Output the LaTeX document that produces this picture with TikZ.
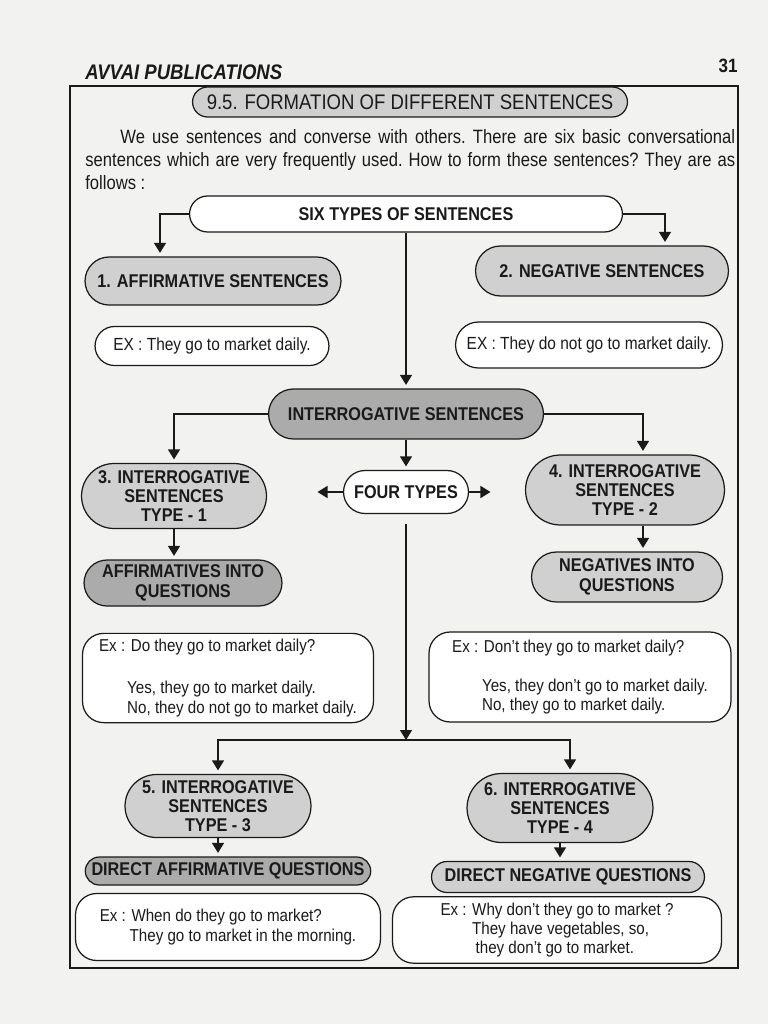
\documentclass[tikz,border=0pt]{standalone}
\usepackage{fontspec}
\setmainfont[FakeStretch=0.88]{Liberation Sans}
\newfontfamily\parafont[FakeStretch=0.86]{Liberation Sans}
\usepackage{tikz}
\usetikzlibrary{arrows.meta,positioning,shapes.misc}
\definecolor{PageGray}{HTML}{F2F2F0}
\definecolor{PillGray}{HTML}{D0D0D0}
\definecolor{PillDark}{HTML}{ABABAB}
\definecolor{InkBlack}{HTML}{1A1A1A}

\begin{document}
\begin{tikzpicture}[x=0.02cm, y=-0.02cm, every node/.style={font=\fontsize{10.5}{11}\selectfont\bfseries, text=InkBlack}, pill/.style={rounded rectangle, draw=InkBlack, line width=0.7pt, fill=PillGray, align=center, inner sep=2pt}, darkpill/.style={pill, fill=PillDark}, whitepill/.style={pill, fill=white}, exbox/.style={rounded corners=12pt, draw=InkBlack, line width=0.7pt, fill=white, align=left, font=\fontsize{9.8}{11}\selectfont}, arrow/.style={-{Triangle[length=2mm,width=2.4mm]}, line width=0.8pt, color=InkBlack, shorten >=2pt}]
\useasboundingbox[fill=PageGray] (0,0) rectangle (768,1024);
% page head and frame
\node[font=\fontsize{12}{14}\selectfont\bfseries\itshape, anchor=base west, inner sep=0pt] (hd) at (85,80) {AVVAI PUBLICATIONS};
\node[font=\fontsize{11}{13}\selectfont\bfseries, anchor=base east, inner sep=0pt] (pg) at (738,72) {31};
\draw[line width=0.9pt, InkBlack] (70,86) rectangle (738,968);
\node[pill, font=\fontsize{12}{14}\selectfont, minimum width=8.84cm, minimum height=0.6cm] (ttl) at (410,102) {9.5. FORMATION OF DIFFERENT SENTENCES};
\node[anchor=north west, text width=13cm, align=justify, font=\parafont\fontsize{11}{13}\selectfont\frenchspacing, inner sep=0pt] (par) at (85,129) {\hspace*{20pt}We use sentences and converse with others. There are six basic conversational\linebreak sentences which are very frequently used. How to form these sentences? They are as\linebreak follows :};
% top level
\node[whitepill, minimum width=8.8cm, minimum height=0.72cm] (six) at (406,214) {SIX TYPES OF SENTENCES};
\node[pill, minimum width=5.26cm, minimum height=0.96cm] (aff) at (213,281) {1. AFFIRMATIVE SENTENCES};
\node[pill, minimum width=5.2cm, minimum height=1cm] (neg) at (602,271) {2. NEGATIVE SENTENCES};
\node[whitepill, font=\fontsize{10}{12}\selectfont, minimum width=4.82cm, minimum height=0.78cm] (exa) at (212,346) {EX : They go to market daily.};
\node[whitepill, font=\fontsize{10}{12}\selectfont, minimum width=5.48cm, minimum height=0.92cm] (exn) at (589,345) {EX : They do not go to market daily.};
\node[darkpill, minimum width=5.64cm, minimum height=1cm] (inter) at (406,414) {INTERROGATIVE SENTENCES};
% interrogative types 1 and 2
\node[whitepill, minimum width=2.64cm, minimum height=0.86cm] (four) at (406,492) {FOUR TYPES};
\node[pill, minimum width=3.84cm, minimum height=1.3cm] (t1) at (174,496) {3. INTERROGATIVE\\SENTENCES\\TYPE - 1};
\node[darkpill, minimum width=4.1cm, minimum height=0.92cm] (aq) at (183,583) {AFFIRMATIVES INTO\\QUESTIONS};
\node[pill, minimum width=4.12cm, minimum height=1.4cm] (t2) at (625,490) {4. INTERROGATIVE\\SENTENCES\\TYPE - 2};
\node[pill, minimum width=3.96cm, minimum height=1cm] (nq) at (627,577) {NEGATIVES INTO\\QUESTIONS};
\node[exbox, minimum width=5.82cm, minimum height=1.76cm] (ex3) at (228,678) {Ex : Do they go to market daily?\\[13pt]\hspace*{16pt}Yes, they go to market daily.\\\hspace*{16pt}No, they do not go to market daily.};
\node[exbox, minimum width=6.04cm, minimum height=1.8cm] (ex4) at (580,677) {Ex : Don't they go to market daily?\\[11pt]\hspace*{17pt}Yes, they don't go to market daily.\\\hspace*{17pt}No, they go to market daily.};
% interrogative types 3 and 4
\node[pill, minimum width=3.68cm, minimum height=1.26cm] (t3) at (218,806) {5. INTERROGATIVE\\SENTENCES\\TYPE - 3};
\node[pill, minimum width=3.86cm, minimum height=1.38cm] (t4) at (560,808) {6. INTERROGATIVE\\SENTENCES\\TYPE - 4};
\node[darkpill, minimum width=5.68cm, minimum height=0.56cm] (daq) at (228,871) {DIRECT AFFIRMATIVE QUESTIONS};
\node[pill, minimum width=5.6cm, minimum height=0.62cm] (dnq) at (568,877) {DIRECT NEGATIVE QUESTIONS};
\node[exbox, minimum width=6.1cm, minimum height=1.34cm] (ex5) at (228,927) {Ex : When do they go to market?\\\hspace*{17pt}They go to market in the morning.};
\node[exbox, minimum width=6.58cm, minimum height=1.3cm] (ex6) at (557,930) {Ex : Why don't they go to market ?\\\hspace*{18pt}They have vegetables, so,\\\hspace*{20pt}they don't go to market.};
% connectors
\draw[arrow] (six.west) -| ([xshift=-1.06cm]aff.north);
\draw[arrow] (six.east) -| ([xshift=1.26cm]neg.north);
\draw[arrow] (six.south) -- (inter.north);
\draw[arrow] (inter.west) -| (t1.north);
\draw[arrow] (inter.east) -| ([xshift=0.36cm]t2.north);
\draw[arrow] (inter.south) -- (four.north);
\coordinate (fl) at (314,492);
\coordinate (fr) at (494,492);
\draw[arrow] (four.west) -- (fl); \draw[arrow] (four.east) -- (fr);
\draw[arrow] (t1.south) -- (t1.south |- aq.north);
\draw[arrow] ([xshift=0.36cm]t2.south) -- ([xshift=0.36cm]t2.south |- nq.north);
\coordinate (j) at (406,740);
\draw[arrow, shorten >=0pt] ([yshift=-0.2cm]four.south) -- (j);
\draw[arrow] (j) -| (t3.north);
\draw[arrow] (j) -| ([xshift=0.2cm]t4.north);
\draw[arrow] (t3.south) -- (t3.south |- daq.north);
\draw[arrow] (t4.south) -- (t4.south |- dnq.north);
\end{tikzpicture}
\end{document}
